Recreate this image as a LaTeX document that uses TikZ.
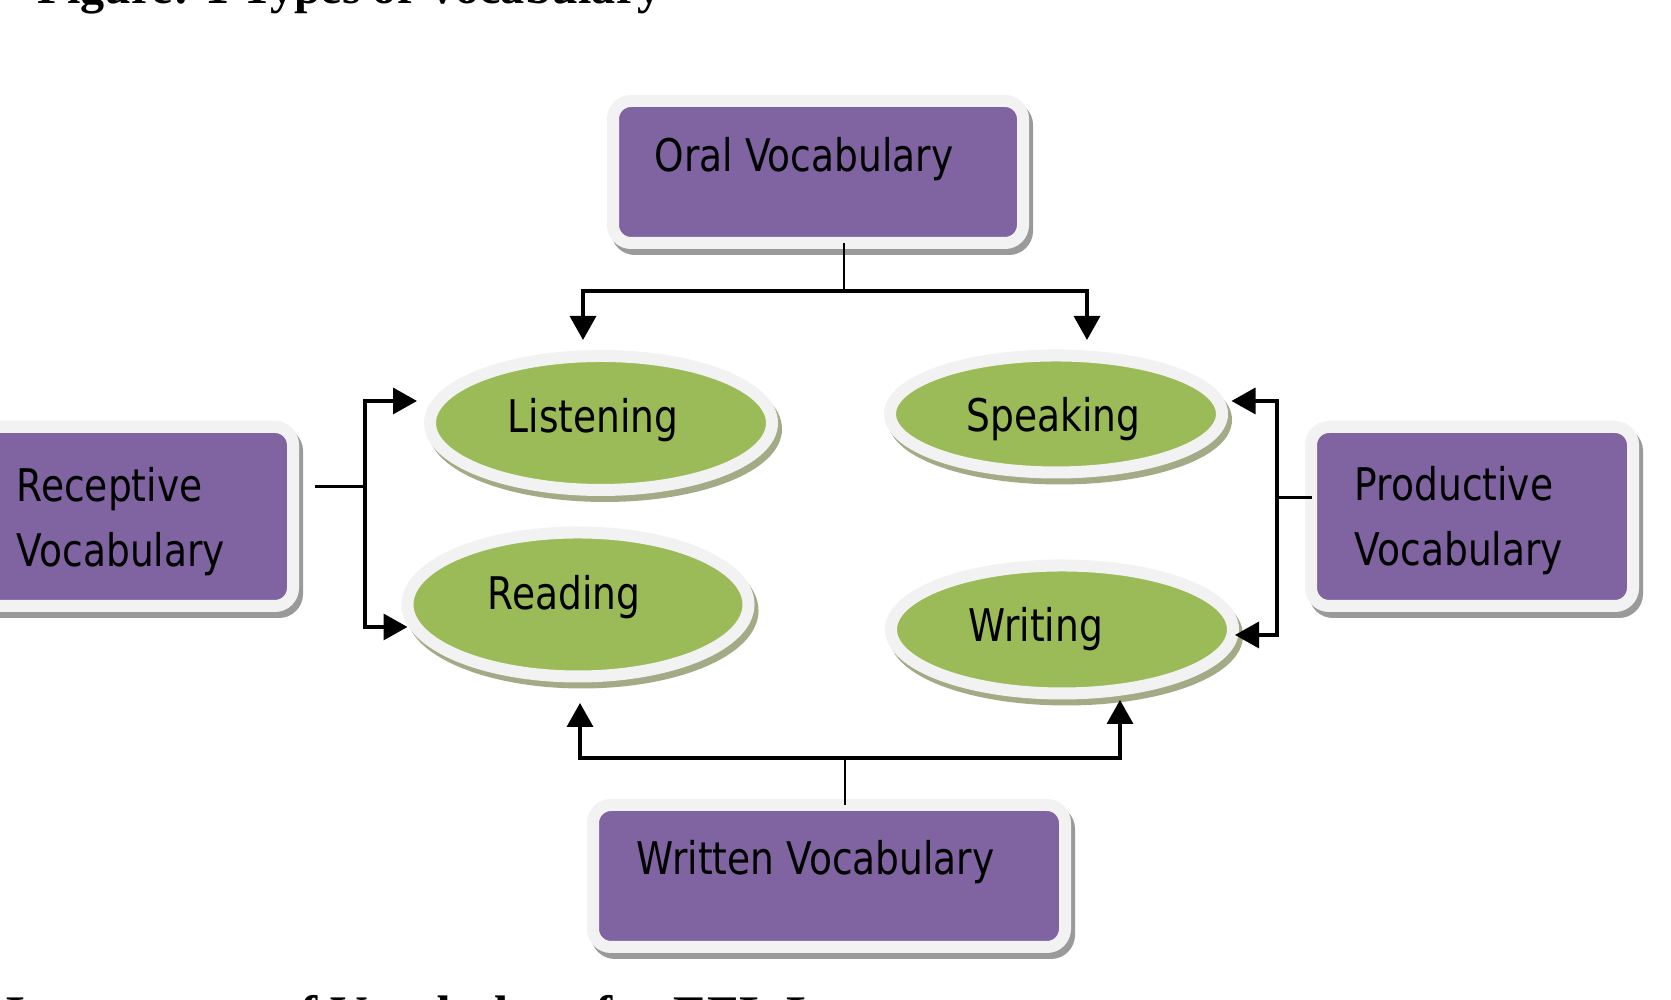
\documentclass[tikz,border=0pt]{standalone}
\usepackage{fontspec}
\setmainfont{DejaVu Sans}[FakeStretch=0.835]
\newfontfamily\headfont{Liberation Serif}
\usetikzlibrary{arrows.meta,calc,shapes.geometric,shadows}
\definecolor{boxpurple}{HTML}{8064A2}
\definecolor{skillgreen}{HTML}{9BBB59}
\definecolor{rimgray}{HTML}{F2F2F2}
\definecolor{boxshade}{HTML}{9A9A9A}
\definecolor{skillshade}{HTML}{A2AA86}

\begin{document}
\begin{tikzpicture}[>={Triangle[length=0.24cm,width=0.26cm]},
  vocab/.style={rectangle,rounded corners=0.18cm,fill=boxpurple,draw=rimgray,
    line width=0.12cm,outer sep=0pt,
    drop shadow={shadow xshift=0.04cm,shadow yshift=-0.06cm,fill=boxshade,
      draw=boxshade,line width=0.12cm,opacity=1}},
  skill/.style={ellipse,fill=skillgreen,draw=rimgray,line width=0.12cm,outer sep=0pt,
    drop shadow={shadow xshift=0.04cm,shadow yshift=-0.06cm,fill=skillshade,
      draw=skillshade,line width=0.12cm,opacity=1}},
  lbl/.style={inner sep=0pt,font=\fontsize{12.8}{18.4}\selectfont},
  head/.style={inner sep=0pt,anchor=base west,font=\headfont\bfseries\fontsize{13.7}{16}\selectfont},
  link/.style={line width=1pt}]

  \useasboundingbox (0,0) rectangle (16.71,10);
  \clip (0,0) rectangle (16.71,10);

  % Caption (cut at the top) and heading (cut at the bottom)
  \node[head] (title) at (0.37,9.96) {Figure: 1 Types of Vocabulary};
  \node[head,font=\headfont\bfseries\fontsize{14.6}{17}\selectfont] (sect) at (0.05,-0.32)
    {Importance of Vocabulary for EFL Learners};

  % Vocabulary boxes
  \node[vocab,minimum width=4.10cm,minimum height=1.42cm] (oral) at (8.18,8.28) {};
  \node[vocab,minimum width=4.72cm,minimum height=1.42cm] (wvoc) at (8.29,1.24) {};
  \node[vocab,minimum width=3.22cm,minimum height=1.79cm] (rec) at (1.32,4.835) {};
  \node[vocab,minimum width=3.22cm,minimum height=1.79cm] (pro) at (14.72,4.835) {};

  \node[lbl,anchor=base west] (oraltxt) at (6.54,8.28) {Oral Vocabulary};
  \node[lbl,anchor=base west] (wvoctxt) at (6.36,1.25) {Written Vocabulary};
  \node[lbl,anchor=north west,align=left] (rectxt) at (0.16,5.33) {Receptive\\Vocabulary};
  \node[lbl,anchor=north west,align=left] (protxt) at (13.54,5.34) {Productive\\Vocabulary};

  % Skills
  \node[skill,minimum width=3.42cm,minimum height=1.34cm] (lis) at (6.01,5.77) {};
  \node[skill,minimum width=3.32cm,minimum height=1.17cm] (spk) at (10.56,5.86) {};
  \node[skill,minimum width=3.41cm,minimum height=1.44cm] (rea) at (5.78,3.955) {};
  \node[skill,minimum width=3.42cm,minimum height=1.28cm] (wri) at (10.62,3.705) {};

  \node[lbl,anchor=base west] (listxt) at (5.07,5.67) {Listening};
  \node[lbl,anchor=base west] (spktxt) at (9.66,5.68) {Speaking};
  \node[lbl,anchor=base west] (reatxt) at (4.87,3.90) {Reading};
  \node[lbl,anchor=base west] (writxt) at (9.68,3.58) {Writing};

  % Oral -> listening, speaking
  \coordinate (topj) at (8.44,7.09);
  \draw[line width=0.7pt] (oral.south -| topj) -- (topj);
  \draw[link,->] (topj) -| ($(lis.north)+(-0.18,0.16)$);
  \draw[link,->] (topj) -| ($(spk.north)+(0.31,0.155)$);

  % Written -> reading, writing
  \coordinate (botj) at (8.45,2.42);
  \draw[line width=0.7pt] (wvoc.north -| botj) -- (botj);
  \draw[link,->] (botj) -| ($(rea.south)+(0.02,-0.265)$);
  \draw[link,->] (botj) -| ($(wri.south)+(0.58,-0.065)$);

  % Receptive -> listening, reading
  \draw[link] ($(rec.east)+(0.22,0.30)$) -- ++(0.50,0) coordinate (lj);
  \draw[link,->] (lj) |- ($(lis.west)+(-0.13,0.22)$);
  \draw[link,->] (lj) |- ($(rea.west)+(0,-0.225)$);

  % Productive -> speaking, writing
  \draw[link] ($(pro.west)+(0.01,0.19)$) -- ++(-0.35,0) coordinate (rj);
  \draw[link,->] (rj) |- ($(spk.east)+(0.095,0.13)$);
  \draw[link,->] (rj) |- ($(wri.east)+(0.02,-0.055)$);

\end{tikzpicture}
\end{document}
